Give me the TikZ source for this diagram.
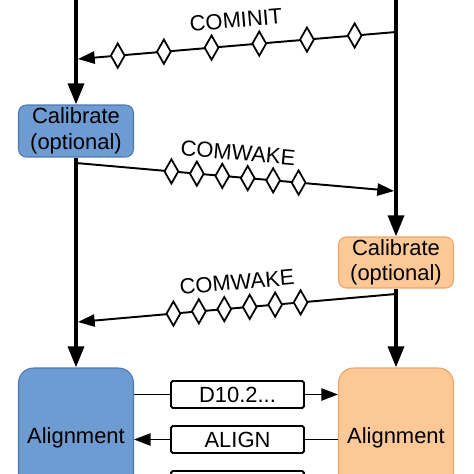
\documentclass[tikz,border=0pt]{standalone}
\usepackage{fontspec}
\setmainfont{Liberation Sans}
\usetikzlibrary{arrows.meta,shapes.geometric}
\definecolor{hostblue}{RGB}{110,155,209}
\definecolor{hostedge}{RGB}{78,121,176}
\definecolor{devorange}{RGB}{252,201,150}
\definecolor{devedge}{RGB}{235,164,108}

\begin{document}
\begin{tikzpicture}[x=0.02cm, y=-0.02cm, font=\fontsize{12.5}{14.5}\selectfont,
  tl/.style={line width=2.2pt, -{Triangle[length=12pt,width=9pt]}},
  msg/.style={line width=1.1pt},
  msgarr/.style={msg, -{Triangle[length=9.5pt,width=7pt]}},
  dmd/.style={diamond, draw, fill=white, line width=1pt, inner sep=0pt,
    minimum width=0.29cm, minimum height=0.5cm},
  cal/.style={draw, rounded corners=4.5pt, minimum width=2.3cm, minimum height=1.04cm,
    align=center, inner sep=0pt, line width=0.6pt},
  aln/.style={draw, rounded corners=8.5pt, minimum width=2.3cm, minimum height=2.8cm,
    inner sep=0pt, line width=0.6pt},
  pkt/.style={draw, rounded corners=1pt, line width=1.1pt, fill=white,
    minimum width=2.66cm, minimum height=0.54cm, inner sep=0pt}]

\useasboundingbox (0,0) rectangle (474,474);
\clip (0,0) rectangle (474,474);

% host side (left) and device side (right)
\node[cal, fill=hostblue, draw=hostedge] (calA) at (76,131) {Calibrate\\(optional)};
\node[cal, fill=devorange, draw=devedge, minimum height=1.02cm] (calB) at (396,262.5) {Calibrate\\(optional)};
\node[aln, fill=hostblue, draw=hostedge] (alA) at (76,438) {Alignment};
\node[aln, fill=devorange, draw=devedge] (alB) at (396,438) {Alignment};

\coordinate (topA) at (76,-5);
\coordinate (topB) at (396,-5);

\draw[tl] (topA) -- (calA.north);
\draw[tl] (topB) -- (calB.north);
\draw[tl] (calA.south) -- (alA.north);
\draw[tl] (calB.south) -- (alB.north);

% OOB signals
\coordinate (ciS) at (396,32);
\coordinate (ciE) at (78,59);
\coordinate (cwS) at (76,163);
\coordinate (cwE) at (394,191);
\coordinate (cdS) at (396,294);
\coordinate (cdE) at (78,322);

\draw[msgarr] (ciS) -- (ciE)
  foreach \p in {0.13,0.28,0.43,0.58,0.73,0.875} {node[dmd, pos=\p] {}};
\draw[msgarr] (cwS) -- (cwE)
  foreach \p in {0.30,0.38,0.46,0.54,0.62,0.70} {node[dmd, pos=\p] {}};
\draw[msgarr] (cdS) -- (cdE)
  foreach \p in {0.30,0.38,0.46,0.54,0.62,0.70} {node[dmd, pos=\p] {}};

\node[rotate=4.8] (tCI) at (236,20) {COMINIT};
\node[rotate=-5] (tCW) at (238,153) {COMWAKE};
\node[rotate=5] (tCD) at (237,282) {COMWAKE};

% primitives
\node[pkt] (d10) at (237.5,394.5) {D10.2...};
\node[pkt] (algn) at (237.5,439.5) {ALIGN};
\node[pkt] (nxt) at (237.5,484.5) {};

\draw[msg] (alA.east |- d10) -- (d10.west);
\draw[msgarr] (d10.east) -- (d10 -| alB.west);
\draw[msg] (alB.west |- algn) -- (algn.east);
\draw[msgarr] (algn.west) -- (algn -| alA.east);
\end{tikzpicture}
\end{document}
